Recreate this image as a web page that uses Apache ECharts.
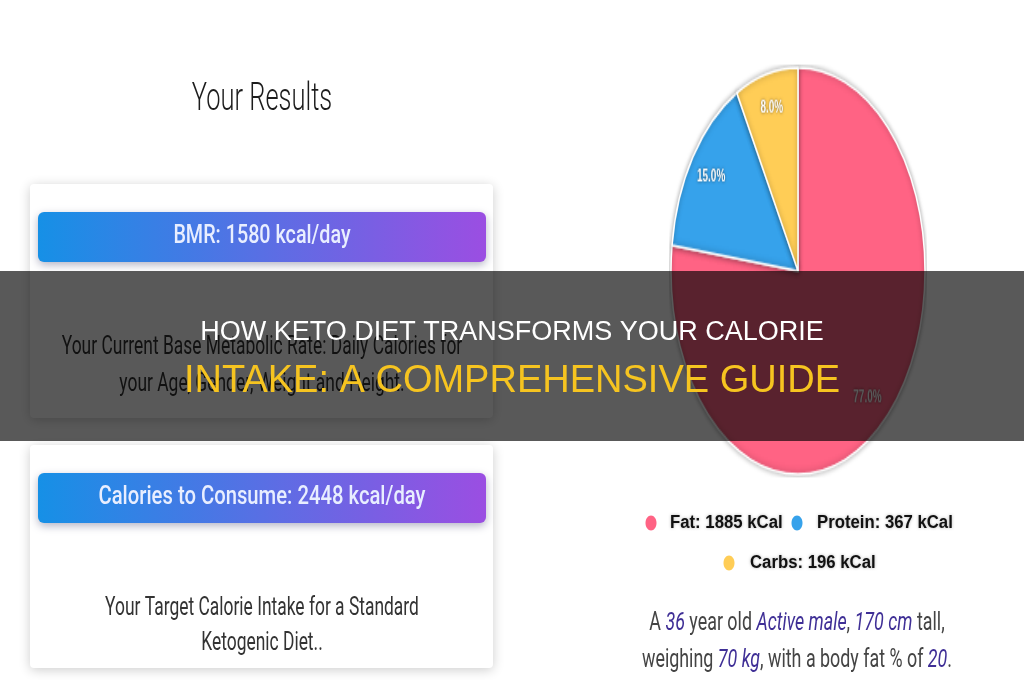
<!DOCTYPE html>
<html>
<head>
<meta charset="utf-8">
<title>Keto calorie results</title>
<script src="https://cdn.jsdelivr.net/npm/echarts@6/dist/echarts.min.js"></script>
<style>
  html, body { margin: 0; padding: 0; background: #fff; }
  #wrap { position: relative; width: 1024px; height: 680px; overflow: hidden; }
  /* the source screenshot is stretched, so the pie becomes an ellipse */
  #pie { position: absolute; left: 669px; top: 142px; width: 258px; height: 258px; transform: scaleY(1.6); z-index: 1; }
  #main { position: absolute; left: 0; top: 0; width: 1024px; height: 680px; z-index: 2; }
</style>
</head>
<body>
<div id="wrap">
  <div id="pie"></div>
  <div id="main"></div>
</div>
<script>
// macro split in the pie
var macroNames = ["Fat", "Protein", "Carbs"];
var macroKcal = [1885, 367, 196];
var macroColors = ["#ff6384", "#36a2eb", "#ffcd56"];

// result cards
var bmrKcal = 1580;
var targetKcal = 2448;

// person under the chart
var age = 36;
var activity = "Active";
var sex = "male";
var heightCm = 170;
var weightKg = 70;
var bodyFat = 20;

var titleLines = ["HOW KETO DIET TRANSFORMS YOUR CALORIE", "INTAKE: A COMPREHENSIVE GUIDE"];

// ---------- pie ----------
var pieChart = echarts.init(document.getElementById("pie"));
pieChart.setOption({
  animation: false,
  series: [
    {
      type: "pie",
      radius: [0, 127],
      startAngle: 90,
      silent: true,
      label: { show: false },
      labelLine: { show: false },
      itemStyle: {
        borderColor: "#fff",
        borderWidth: 1.5,
        shadowBlur: 4,
        shadowColor: "rgba(0,0,0,0.35)"
      },
      data: macroNames.map(function (n, i) {
        return { name: n, value: macroKcal[i], itemStyle: { color: macroColors[i] } };
      })
    },
    {
      // empty ring, only here to put the percents at 0.8 of the radius
      type: "pie",
      radius: [77, 127],
      startAngle: 90,
      percentPrecision: 1,
      silent: true,
      itemStyle: { color: "transparent" },
      label: {
        show: true,
        position: "inside",
        formatter: function (p) {
          return p.percent.toFixed(1) + "%";
        },
        color: "#fff",
        fontFamily: "Liberation Sans",
        fontWeight: "bold",
        fontSize: 10,
        textShadowColor: "rgba(0,0,0,0.6)",
        textShadowBlur: 2
      },
      labelLine: { show: false },
      data: macroNames.map(function (n, i) {
        return { name: n, value: macroKcal[i] };
      })
    }
  ]
});

// ---------- everything else ----------
var SQ = 0.67; // screenshot text is squeezed sideways

function txt(x, y, text, font, fill, sx, z, more) {
  var style = { text: text, x: 0, y: 0, font: font, fill: fill, align: "center", verticalAlign: "middle" };
  if (more) {
    for (var k in more) style[k] = more[k];
  }
  return { type: "text", x: x, y: y, scaleX: sx, z: z || 10, style: style };
}

function card(y, h) {
  return {
    type: "rect",
    z: 1,
    shape: { x: 30, y: y, width: 463, height: h, r: 4 },
    style: { fill: "#fff", shadowBlur: 12, shadowColor: "rgba(0,0,0,0.2)", shadowOffsetY: 2 }
  };
}

function bar(y) {
  return {
    type: "rect",
    z: 2,
    shape: { x: 38, y: y, width: 448, height: 50, r: 6 },
    style: {
      fill: new echarts.graphic.LinearGradient(0, 0, 1, 0, [
        { offset: 0, color: "#1690e6" },
        { offset: 1, color: "#9b4ee2" }
      ]),
      shadowBlur: 8,
      shadowColor: "rgba(40,40,90,0.35)",
      shadowOffsetY: 3
    }
  };
}

var els = [];

els.push(txt(262, 100, "Your Results", "300 38px Roboto", "#1c1c1c", SQ));

els.push(card(184, 234));
els.push(bar(212));
els.push(txt(262, 237, "BMR: " + bmrKcal + " kcal/day", "500 25px Roboto", "#e8eeff", 0.79, 3));
els.push(txt(262, 347, "Your Current Base Metabolic Rate: Daily Calories for", "26px Roboto", "#333", 0.67, 3));
els.push(txt(262, 384, "your Age, Gender, Weight and Height.", "26px Roboto", "#333", 0.67, 3));

els.push(card(445, 223));
els.push(bar(473));
els.push(txt(262, 498, "Calories to Consume: " + targetKcal + " kcal/day", "500 25px Roboto", "#e8eeff", 0.81, 3));
els.push(txt(262, 608, "Your Target Calorie Intake for a Standard", "26px Roboto", "#333", SQ, 3));
els.push(txt(262, 643, "Ketogenic Diet..", "26px Roboto", "#333", SQ, 3));

// legend for the pie
var legendSlots = [
  { dot: 651, x: 670, y: 523 },
  { dot: 797, x: 817, y: 523 },
  { dot: 729, x: 750, y: 563 }
];
macroNames.forEach(function (n, i) {
  var s = legendSlots[i];
  els.push({ type: "ellipse", z: 3, shape: { cx: s.dot, cy: s.y, rx: 5.5, ry: 7.5 }, style: { fill: macroColors[i] } });
  els.push(txt(s.x, s.y, n + ": " + macroKcal[i] + " kCal", "bold 18px 'Liberation Sans'", "#111", 0.93, 3,
    { align: "left", textShadowBlur: 3, textShadowColor: "rgba(0,0,0,0.3)" }));
});

var rich = { v: { fill: "#3f2f96", font: "italic 25px Roboto" } };
els.push(txt(797, 624,
  "A {v|" + age + "} year old {v|" + activity + " " + sex + "}, {v|" + heightCm + " cm} tall,",
  "25px Roboto", "#444", 0.715, 3, { rich: rich }));
els.push(txt(797, 661,
  "weighing {v|" + weightKg + " kg}, with a body fat % of {v|" + bodyFat + "}.",
  "25px Roboto", "#444", 0.715, 3, { rich: rich }));

// dark banner with the headline
els.push({ type: "rect", z: 100, shape: { x: 0, y: 271, width: 1024, height: 170 }, style: { fill: "rgba(0,0,0,0.65)" } });
els.push(txt(512, 333, titleLines[0], "27px 'Liberation Sans'", "#fff", 1, 101));
els.push(txt(512, 382, titleLines[1], "38px 'Liberation Sans'", "#f6c420", 1, 101));

var chart = echarts.init(document.getElementById("main"));
chart.setOption({
  animation: false,
  backgroundColor: "transparent",
  graphic: { elements: els }
});
</script>
</body>
</html>
